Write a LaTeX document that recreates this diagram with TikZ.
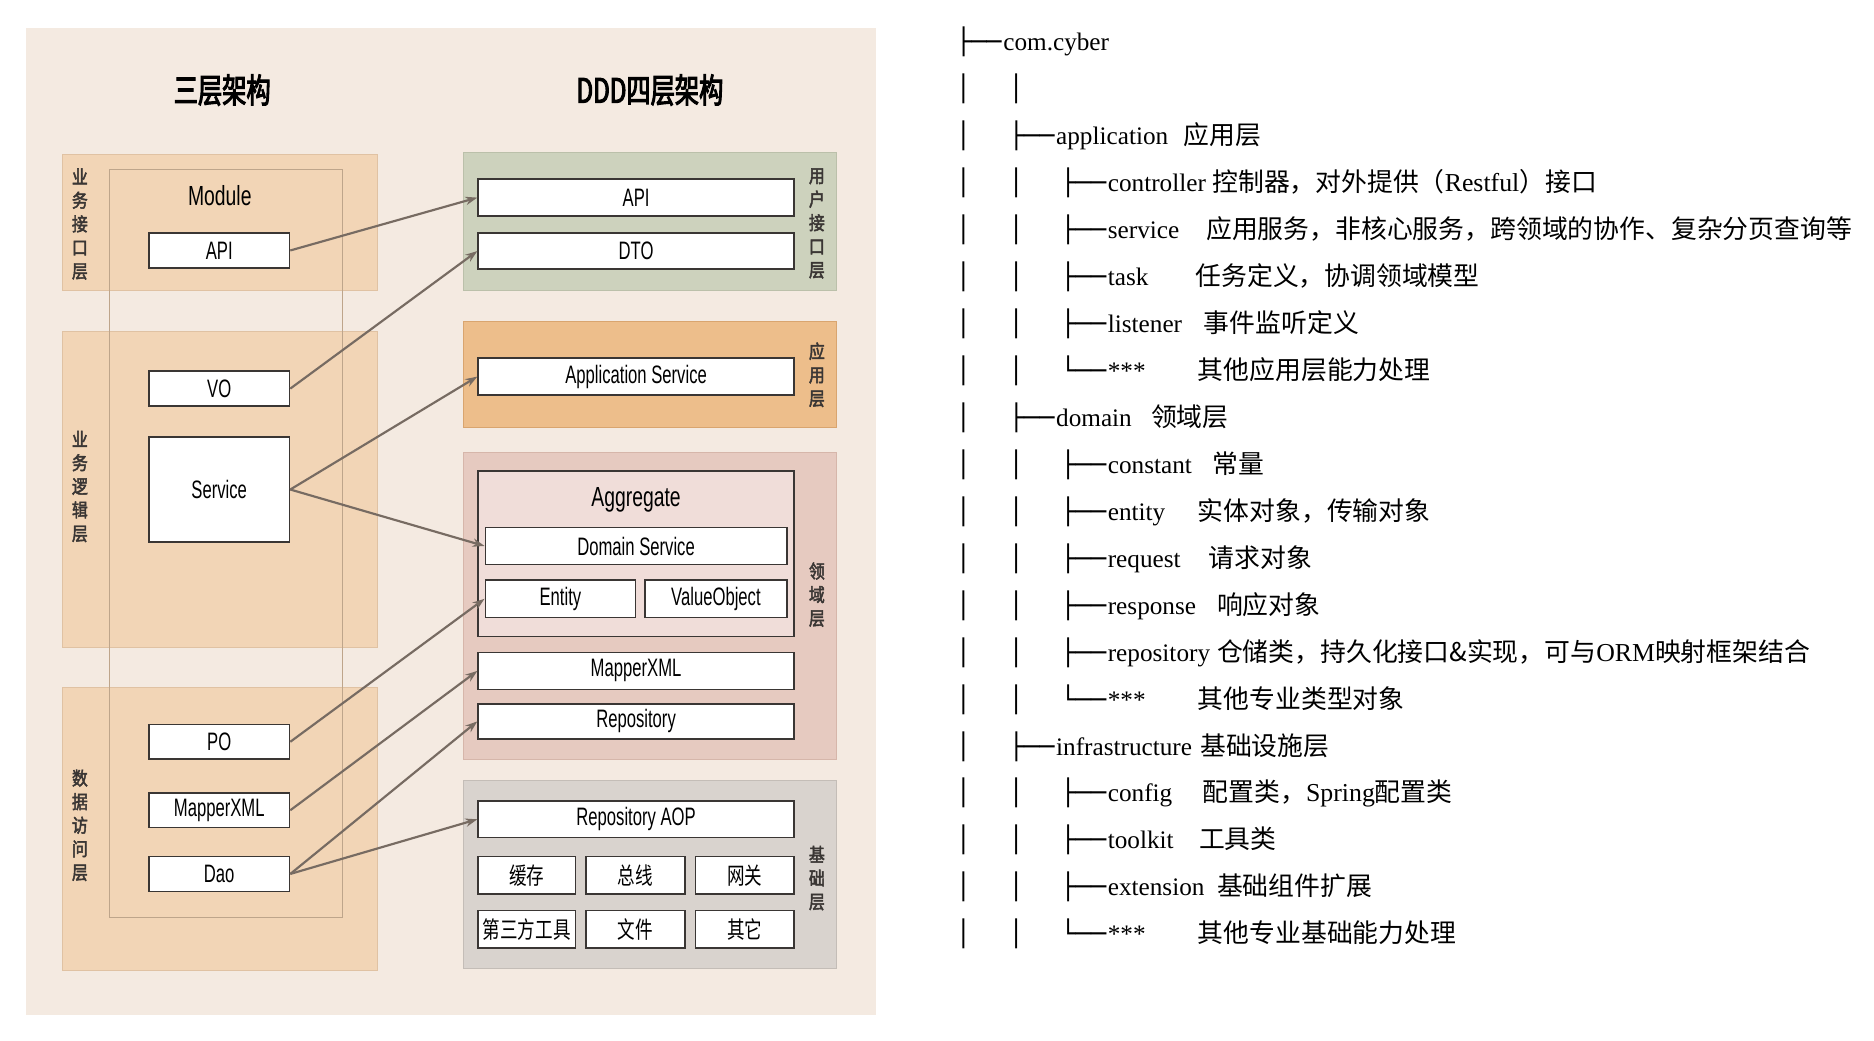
\documentclass[tikz,border=0pt]{standalone}
\usepackage{fontspec}
\setmainfont{Liberation Serif}
\newfontfamily\cjk{Noto Sans CJK SC}
\newfontfamily\condsans[FakeStretch=0.66]{Liberation Sans}
\newfontfamily\headsans[FakeStretch=0.7]{Liberation Sans}
\newfontfamily\condcjk[FakeStretch=0.75]{Noto Sans CJK SC}
\newfontfamily\titlefont[FakeStretch=0.72,FakeBold=3]{Noto Sans CJK SC}
\newfontfamily\sidefont[FakeStretch=0.85,FakeBold=2.5]{Noto Sans CJK SC}
\newfontfamily\boxfont{DejaVu Sans}
\usetikzlibrary{positioning,arrows.meta}

\definecolor{panelbg}{HTML}{F4EAE1}
\definecolor{peach}{HTML}{F2D5B6}
\definecolor{peachline}{HTML}{E0C2A3}
\definecolor{uigreen}{HTML}{CDD2BD}
\definecolor{uiline}{HTML}{BBC0AA}
\definecolor{apporange}{HTML}{EDBE8B}
\definecolor{appline}{HTML}{D9A56F}
\definecolor{dompink}{HTML}{E6CAC0}
\definecolor{domline}{HTML}{D6B6AA}
\definecolor{aggpink}{HTML}{F0DDD9}
\definecolor{infragray}{HTML}{D9D3CE}
\definecolor{infraline}{HTML}{C4BDB7}
\definecolor{itemline}{HTML}{3A3634}
\definecolor{arrowgray}{HTML}{776B62}
\definecolor{sidegray}{HTML}{3A3634}

\begin{document}
\begin{tikzpicture}[x=1pt, y=-1pt,
    layer/.style={rectangle, inner sep=0pt, line width=0.8pt},
    item/.style={rectangle, draw=itemline, fill=white, line width=1.3pt, inner sep=0pt,
        font=\condsans\fontsize{21}{23}\selectfont},
    cjkitem/.style={item, font=\condcjk\fontsize{19.5}{22}\selectfont},
    side/.style={inner sep=0pt, align=center, text=sidegray,
        font=\sidefont\fontsize{15.5}{19.6}\selectfont},
    heading/.style={inner sep=0pt, font=\headsans\fontsize{23}{26}\selectfont},
    arr/.style={-{Stealth[length=10pt,width=7pt]}, line width=1.8pt, draw=arrowgray},
    glyph/.style={inner sep=0pt, anchor=base, font=\boxfont\fontsize{21}{25}\selectfont},
    branch/.style={glyph, anchor=base west},
    pkg/.style={inner sep=0pt, anchor=base west, font=\rmfamily\fontsize{21}{25}\selectfont},
    note/.style={inner sep=0pt, anchor=base west, font=\cjk\fontsize{21.5}{25}\selectfont}]

    % Canvas
    \fill[white] (0,0) rectangle (1560,866);
    \node[layer, fill=panelbg, minimum width=707pt, minimum height=822pt] (panel) at (375.5,434) {};

    % Titles
    \node[inner sep=0pt, font=\titlefont\fontsize{28}{30}\selectfont] (title3) at (185,75) {三层架构};
    \node[inner sep=0pt, font=\titlefont\fontsize{28}{30}\selectfont] (title4) at (541,75) {DDD四层架构};

    % Three-layer side
    \node[layer, fill=peach, draw=peachline, minimum width=262pt, minimum height=113pt] (biz) at (183,185.5) {};
    \node[layer, fill=peach, draw=peachline, minimum width=262pt, minimum height=263pt] (logic) at (183,407.5) {};
    \node[layer, fill=peach, draw=peachline, minimum width=262pt, minimum height=236pt] (data) at (183,690) {};
    \node[layer, draw=peachline!85!black, line width=0.7pt, minimum width=194pt, minimum height=623pt] (module) at (188,452.5) {};
    \node[side] (bizlbl) at (66.5,186.5) {业\\务\\接\\口\\层};
    \node[side] (logiclbl) at (66.5,405) {业\\务\\逻\\辑\\层};
    \node[side] (datalbl) at (66.5,687) {数\\据\\访\\问\\层};
    \node[heading] (modtxt) at (183,163) {Module};
    \node[item, minimum width=117pt, minimum height=29pt] (lapi) at (182.5,208.5) {API};
    \node[item, minimum width=117pt, minimum height=29pt] (lvo) at (182.5,323.5) {VO};
    \node[item, minimum width=117pt, minimum height=87pt] (lsvc) at (182.5,407.5) {Service};
    \node[item, minimum width=117pt, minimum height=29pt] (lpo) at (182.5,617.5) {PO};
    \node[item, minimum width=117pt, minimum height=29pt] (lmap) at (182.5,674.5) {MapperXML};
    \node[item, minimum width=117pt, minimum height=29pt] (ldao) at (182.5,727.5) {Dao};

    % DDD four-layer side
    \node[layer, fill=uigreen, draw=uiline, minimum width=310pt, minimum height=115pt] (ui) at (541,184.5) {};
    \node[layer, fill=apporange, draw=appline, minimum width=310pt, minimum height=88pt] (app) at (541,312) {};
    \node[layer, fill=dompink, draw=domline, minimum width=310pt, minimum height=255pt] (dom) at (541,504.5) {};
    \node[layer, fill=infragray, draw=infraline, minimum width=310pt, minimum height=156pt] (infra) at (541,728) {};
    \node[side] (uilbl) at (680,186) {用\\户\\接\\口\\层};
    \node[side] (applbl) at (680,312) {应\\用\\层};
    \node[side] (domlbl) at (680,495) {领\\域\\层};
    \node[side] (infralbl) at (680,731) {基\\础\\层};

    \node[item, minimum width=263pt, minimum height=31pt] (rapi) at (529.5,164.5) {API};
    \node[item, minimum width=263pt, minimum height=30pt] (rdto) at (529.5,209) {DTO};
    \node[item, minimum width=263pt, minimum height=31pt] (appsvc) at (529.5,313.5) {Application Service};

    \node[layer, fill=aggpink, draw=itemline, line width=1.3pt, minimum width=263pt, minimum height=138pt] (agg) at (529.5,461) {};
    \node[heading] (aggtxt) at (529.5,416) {Aggregate};
    \node[item, minimum width=251pt, minimum height=31pt] (dsvc) at (529.5,454.5) {Domain Service};
    \node[item, minimum width=125pt, minimum height=31pt] (entity) at (466.5,498.5) {Entity};
    \node[item, minimum width=118pt, minimum height=31pt] (vobj) at (596,498.5) {ValueObject};
    \node[item, minimum width=263pt, minimum height=31pt] (rmap) at (529.5,558.5) {MapperXML};
    \node[item, minimum width=263pt, minimum height=29pt] (repo) at (529.5,600.5) {Repository};

    \node[item, minimum width=263pt, minimum height=30pt] (aop) at (529.5,682) {Repository AOP};
    \node[cjkitem, minimum width=81pt, minimum height=31pt] (cache) at (438.5,728.5) {缓存};
    \node[cjkitem, minimum width=82pt, minimum height=31pt] (bus) at (529,728.5) {总线};
    \node[cjkitem, minimum width=82pt, minimum height=31pt] (gate) at (620,728.5) {网关};
    \node[cjkitem, minimum width=81pt, minimum height=31pt] (tools) at (438.5,773.5) {第三方工具};
    \node[cjkitem, minimum width=82pt, minimum height=31pt] (file) at (529,773.5) {文件};
    \node[cjkitem, minimum width=82pt, minimum height=31pt] (other) at (620,773.5) {其它};

    % Mapping arrows
    \draw[arr] (lapi.east) -- (rapi.west);
    \draw[arr] (lvo.east) -- (rdto.west);
    \draw[arr] (lsvc.east) -- (appsvc.west);
    \draw[arr] (lsvc.east) -- (dsvc.west);
    \draw[arr] (lpo.east) -- (entity.west);
    \draw[arr] (lmap.east) -- (rmap.west);
    \draw[arr] (ldao.east) -- (repo.west);
    \draw[arr] (ldao.east) -- (aop.west);

    % Package tree
    \node[branch] (tip0) at (795.7,42) {├──};
    \foreach \r in {1,...,19}
        \node[glyph] (bara\r) at (802,42+39.1*\r) {│};
    \foreach \r in {1,3,4,5,6,7,9,10,11,12,13,14,16,17,18,19}
        \node[glyph] (barb\r) at (846,42+39.1*\r) {│};
    \foreach \r in {2,8,15}
        \node[branch] (tipb\r) at (839.7,42+39.1*\r) {├──};
    \foreach \r in {3,4,5,6,9,10,11,12,13,16,17,18}
        \node[branch] (tipc\r) at (882.7,42+39.1*\r) {├──};
    \foreach \r in {7,14,19}
        \node[branch] (tipc\r) at (882.7,42+39.1*\r) {└──};

    \node[pkg] (name0) at (835,42) {com.cyber};
    \foreach \r/\tx/\name/\dx/\desc in {
        2/879/application/985/应用层,
        3/922/controller/1009/控制器，对外提供（{\rmfamily Restful}）接口,
        4/922/service/1004/应用服务，非核心服务，跨领域的协作、复杂分页查询等,
        5/922/task/995/任务定义，协调领域模型,
        6/922/listener/1002/事件监听定义,
        7/922/***/997/其他应用层能力处理,
        8/879/domain/958/领域层,
        9/922/constant/1009/常量,
        10/922/entity/997/实体对象，传输对象,
        11/922/request/1006/请求对象,
        12/922/response/1013/响应对象,
        13/922/repository/1013/仓储类，持久化接口\&实现，可与{\rmfamily ORM}映射框架结合,
        14/922/***/997/其他专业类型对象,
        15/879/infrastructure/999/基础设施层,
        16/922/config/1001/配置类，{\rmfamily Spring}配置类,
        17/922/toolkit/998/工具类,
        18/922/extension/1013/基础组件扩展,
        19/922/***/997/其他专业基础能力处理}
    {
        \node[pkg] (name\r) at (\tx,42+39.1*\r) {\name};
        \node[note] (desc\r) at (\dx,42+39.1*\r) {\desc};
    }

\end{tikzpicture}
\end{document}
